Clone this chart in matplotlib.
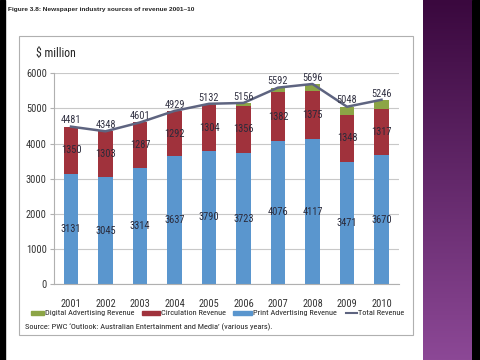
import matplotlib
matplotlib.use("Agg")
import matplotlib.pyplot as plt
import numpy as np
from matplotlib import font_manager
from matplotlib.patches import Rectangle
from matplotlib.lines import Line2D

years = ["2001", "2002", "2003", "2004", "2005", "2006", "2007", "2008", "2009", "2010"]
print_adv = [3131, 3045, 3314, 3637, 3790, 3723, 4076, 4117, 3471, 3670]
circulation = [1350, 1303, 1287, 1292, 1304, 1356, 1382, 1375, 1348, 1317]
digital = [0, 0, 0, 0, 38, 77, 134, 204, 229, 259]
total = [4481, 4348, 4601, 4929, 5132, 5156, 5592, 5696, 5048, 5246]
yticks = [0, 1000, 2000, 3000, 4000, 5000, 6000]
legend_labels = ["Digital Advertising Revenue", "Circulation Revenue",
                 "Print Advertising Revenue", "Total Revenue"]

# choose the narrowest available sans font
prefs = ["liberationsansnarrow-regular", "robotocondensed-regular", "opensans_condensed-regular",
         "opensanscondensed", "dejavusanscondensed.ttf"]
files = [f.fname for f in font_manager.fontManager.ttflist]
narrow_file = None
for p in prefs:
    for fn in files:
        if p in fn.lower().replace(" ", "").replace("_", "") or p in fn.lower():
            narrow_file = fn
            break
    if narrow_file:
        break
if narrow_file:
    font_manager.fontManager.addfont(narrow_file)
    nprop_name = font_manager.FontProperties(fname=narrow_file).get_name()
    plt.rcParams['font.family'] = [nprop_name, 'DejaVu Sans']
    narrow_prop = font_manager.FontProperties(fname=narrow_file)
else:
    plt.rcParams['font.family'] = ['Liberation Sans', 'DejaVu Sans']
    narrow_prop = None

W, H = 480, 360
fig = plt.figure(figsize=(4.8, 3.6), dpi=100)
fig.patch.set_facecolor("white")
renderer = fig.canvas.get_renderer()

def fx(px):
    return px / W

def fy(py):
    return 1 - py / H

def fit_size(t, target_w):
    bb = t.get_window_extent(renderer=renderer)
    if bb.width > 0:
        return t.get_fontsize() * target_w / bb.width
    return t.get_fontsize()

def ntext(*args, **kw):
    if narrow_prop is not None:
        kw["fontproperties"] = narrow_prop.copy()
        fs = kw.pop("fontsize", 7)
        kw["fontproperties"].set_size(fs)
    return fig.text(*args, **kw)

# background strips
fig.add_artist(Rectangle((0, 0), fx(5), 1, transform=fig.transFigure, color="black", zorder=0))
fig.add_artist(Rectangle((fx(472), 0), 1, 1, transform=fig.transFigure, color="black", zorder=0))
grad_ax = fig.add_axes([fx(423), 0, fx(472) - fx(423), 1])
grad = np.linspace(0, 1, 256).reshape(-1, 1)
top = np.array([58, 8, 62]) / 255
bot = np.array([140, 72, 150]) / 255
img = top + (bot - top) * grad[..., None]
grad_ax.imshow(img.reshape(256, 1, 3), aspect="auto", extent=[0, 1, 0, 1])
grad_ax.axis("off")

# chart box
fig.add_artist(Rectangle((fx(19), fy(335)), fx(413) - fx(19), fy(36) - fy(335),
                         transform=fig.transFigure, fill=False, edgecolor="#b0b0b0", lw=0.8, zorder=1))

t = fig.text(fx(8), fy(10), "Figure 3.8: Newspaper industry sources of revenue 2001\u201310",
             fontsize=4.6, fontweight="bold", family=["Liberation Sans", "DejaVu Sans"],
             va="center", ha="left", color="#222222")
t.set_fontsize(fit_size(t, 185))

ax = fig.add_axes([fx(53.75), fy(284), fx(398.75) - fx(53.75), fy(73.3) - fy(284)])
ax.set_facecolor("none")
x = np.arange(len(years))
bw = 0.41
c_print = "#5A96CE"
c_circ = "#A0323C"
c_dig = "#8CA546"
c_line = "#5E6480"

ax.bar(x, print_adv, bw, color=c_print, zorder=2)
ax.bar(x, circulation, bw, bottom=print_adv, color=c_circ, zorder=2)
base2 = [p + c for p, c in zip(print_adv, circulation)]
ax.bar(x, digital, bw, bottom=base2, color=c_dig, zorder=2)
ax.plot(x, total, color=c_line, lw=1.8, zorder=3)

lab_col = "#2a2a3a"
fs_lab = 7.5
for i in range(len(years)):
    ax.text(x[i], print_adv[i] / 2, str(print_adv[i]), ha="center", va="center",
            fontsize=fs_lab, color=lab_col, zorder=4)
    ax.text(x[i], print_adv[i] + circulation[i] / 2, str(circulation[i]), ha="center", va="center",
            fontsize=fs_lab, color=lab_col, zorder=4)
    ax.annotate(str(total[i]), (x[i], total[i]), xytext=(0, 4.5), textcoords="offset points",
                ha="center", va="center", fontsize=fs_lab, color="#333344", zorder=4)

ax.set_xlim(-0.5, len(years) - 0.5)
ax.set_ylim(0, 6000)
ax.set_yticks(yticks)
ax.set_yticklabels([str(t) for t in yticks], fontsize=7.5, color="#333333")
ax.set_xticks(x)
ax.set_xticklabels(years, fontsize=7.5, color="#333333")
ax.yaxis.grid(True, color="#c8c8c8", lw=0.8, zorder=0)
ax.set_axisbelow(True)
for s in ["top", "right"]:
    ax.spines[s].set_visible(False)
ax.spines["left"].set_color("#b0b0b0")
ax.spines["bottom"].set_color("#b0b0b0")
ax.tick_params(axis="y", length=3, color="#b0b0b0", pad=2)
ax.tick_params(axis="x", length=0, pad=11)

ntext(fx(36), fy(53), "$ million", fontsize=8.5, ha="left", va="center", color="#222222")

# manual legend
ly = fy(313)
leg_specs = [
    ("patch", c_dig, 31, 44, 45, 133),
    ("patch", c_circ, 142, 160, 161, 227),
    ("patch", c_print, 233, 252, 253, 336),
    ("line", c_line, 346, 357, 358, 410),
]
texts = []
sizes = []
for (kind, col, h0, h1, t0, t1), lab in zip(leg_specs, legend_labels):
    if kind == "patch":
        fig.add_artist(Rectangle((fx(h0), fy(315)), fx(h1) - fx(h0), fy(311) - fy(315),
                                 transform=fig.transFigure, color=col, zorder=3))
    else:
        fig.add_artist(Line2D([fx(h0), fx(h1)], [ly, ly], transform=fig.transFigure,
                              color=col, lw=1.5, zorder=3))
    tt = ntext(fx(t0), ly, lab, fontsize=6.5, ha="left", va="center", color="#222222")
    texts.append(tt)
    sizes.append(fit_size(tt, t1 - t0))
common = min(sizes)
for tt in texts:
    tt.set_fontsize(common)

ts = ntext(fx(25), fy(327), "Source: PWC \u2018Outlook: Australian Entertainment and Media\u2019 (various years).",
           fontsize=6.5, ha="left", va="center", color="#222222")
ts.set_fontsize(fit_size(ts, 250))

fig.savefig("out.png", dpi=100)
